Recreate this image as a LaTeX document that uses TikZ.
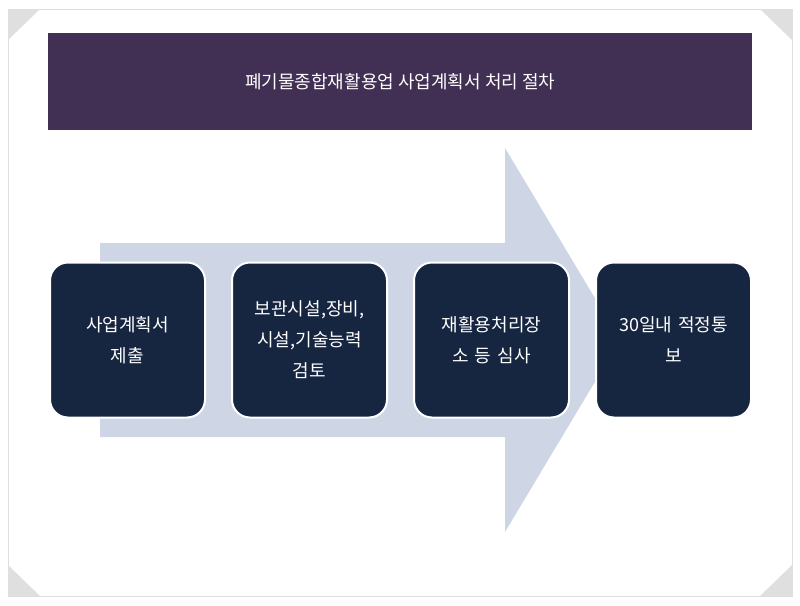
\documentclass[tikz,border=0pt]{standalone}
\usepackage{fontspec}
\setmainfont{Noto Sans CJK KR}
\definecolor{navy}{RGB}{22,37,64}
\definecolor{plum}{RGB}{66,47,84}
\definecolor{arrowblue}{RGB}{206,214,230}
\begin{document}
\begin{tikzpicture}[x=1pt,y=-1pt,
  stepbox/.style={draw=white,line width=2pt,fill=navy,rounded corners=18pt,minimum width=155pt,minimum height=155pt,text=white,align=center,font=\fontsize{18}{31}\selectfont,text width=140pt}]
\useasboundingbox (0,0) rectangle (800,605);
\fill[white] (0,0) rectangle (800,605);
\draw[gray!25,line width=1pt] (8,9) rectangle (792,596);
\fill[gray!25] (8,9)--(40,9)--(8,40)--cycle;
\fill[gray!25] (792,9)--(760,9)--(792,40)--cycle;
\fill[gray!25] (8,596)--(40,596)--(8,565)--cycle;
\fill[gray!25] (792,596)--(760,596)--(792,565)--cycle;
\node[fill=plum,minimum width=704pt,minimum height=97pt,anchor=north west,text=white,font=\fontsize{18}{20}\selectfont] (title) at (48,33) {폐기물종합재활용업 사업계획서 처리 절차};
\fill[arrowblue] (100,243)--(505,243)--(505,148)--(620,340)--(505,532)--(505,437)--(100,437)--cycle;
\node[stepbox] (s1) at (127.5,340) {사업계획서\\제출};
\node[stepbox] (s2) at (309.5,340) {보관시설,장비,\\시설,기술능력\\검토};
\node[stepbox] (s3) at (491.5,340) {재활용처리장\\소 등 심사};
\node[stepbox] (s4) at (673.5,340) {30일내 적정통\\보};
\end{tikzpicture}
\end{document}
